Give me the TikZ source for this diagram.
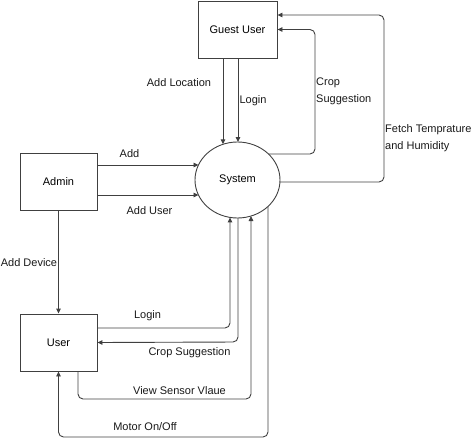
\documentclass[tikz,border=0pt]{standalone}
\usepackage{fontspec}
\setmainfont{Liberation Sans}
\usetikzlibrary{arrows.meta,calc,shapes.geometric}
\definecolor{ln}{HTML}{404040}
\tikzset{
  box/.style={draw=ln,line width=0.9pt,rectangle,minimum width=77pt,minimum height=57pt,inner sep=0pt,font=\fontsize{11}{12}\selectfont},
  sys/.style={draw=ln,line width=0.9pt,ellipse,minimum width=85pt,minimum height=76pt,inner sep=0pt,font=\fontsize{11}{12}\selectfont},
  flow/.style={draw=ln,line width=0.9pt,rounded corners=5pt,-{Triangle[length=5pt,width=4.5pt]}},
  lbl/.style={inner sep=0pt,font=\fontsize{11}{17}\selectfont,text=black!90}
}
\begin{document}
\begin{tikzpicture}[x=1pt,y=-1pt]
\useasboundingbox (0,0) rectangle (474,439);
\node[box,minimum width=79pt] (guest) at (237.5,29.5) {Guest User};
\node[box] (admin) at (58.5,181.5) {Admin};
\node[box] (user) at (58.5,342.5) {User};
\node[sys] (system) at (237.5,180) {System};
% Guest -> System
\draw[flow] ($(guest.south)+(-14.5,0)$) -- ($(system.center)+(-14.5,-35.7)$);
\draw[flow] ($(guest.south)+(0.5,0)$) -- ($(system.center)+(0.5,-38)$);
% System -> Guest
\coordinate (c1) at (315,154);
\coordinate (c2) at (384,182);
\draw[flow] ($(system.center)+(31,-26)$) -- (c1) -- (c1 |- guest.east) -- (guest.east);
\draw[flow] ($(system.center)+(42.5,2)$) -- (c2) -- (384,15) -- ($(guest.east)+(0,-14.5)$);
% Admin -> System
\draw[flow] ($(admin.east)+(0,-16.5)$) -- ($(system.center)+(-39,-15)$);
\draw[flow] ($(admin.east)+(0,13.5)$) -- ($(system.center)+(-39,15)$);
% Admin -> User
\draw[flow] (admin.south) -- (user.north);
% User <-> System
\draw[flow] ($(user.east)+(0,-14.5)$) -- (230,328) -- ($(system.center)+(-7.5,37.4)$);
\draw[flow] ($(system.center)+(0.5,38)$) -- (238,342) -- (user.east);
\draw[flow] ($(user.south)+(19.5,0)$) -- (78,399) -- (251,399) -- ($(system.center)+(13.5,36)$);
\draw[flow] ($(system.center)+(30.5,26.5)$) -- (268,437) -- (58.5,437) -- (user.south);
% labels
\node[lbl] (l1) at (179,83) {Add Location};
\node[lbl] (l2) at (253,101) {Login};
\node[lbl,anchor=west,align=left] (l3) at (316,91.5) {Crop\\Suggestion};
\node[lbl,anchor=west,align=left] (l4) at (385,138.5) {Fetch Temprature\\and Humidity};
\node[lbl] (l5) at (129.5,154) {Add};
\node[lbl] (l6) at (149.5,211) {Add User};
\node[lbl] (l7) at (29,263) {Add Device};
\node[lbl] (l8) at (147.5,316) {Login};
\node[lbl] (l9) at (189.5,353) {Crop Suggestion};
\node[lbl] (l10) at (179.5,391) {View Sensor Vlaue};
\node[lbl] (l11) at (145,427) {Motor On/Off};
\end{tikzpicture}
\end{document}
